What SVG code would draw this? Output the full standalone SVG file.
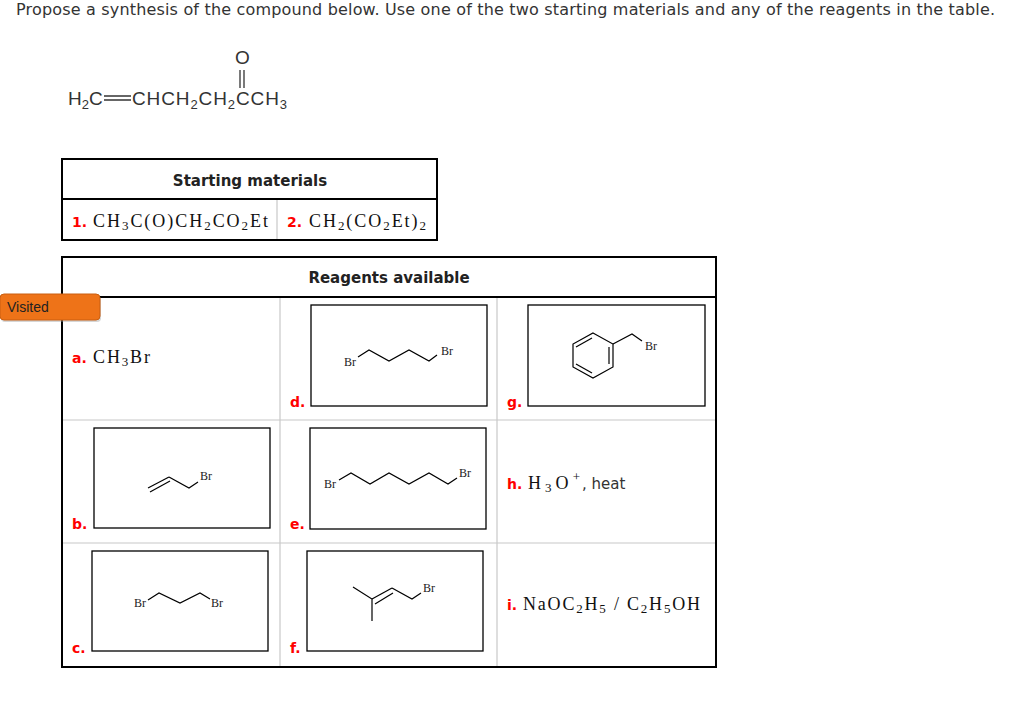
<svg xmlns="http://www.w3.org/2000/svg" width="1024" height="711" viewBox="0 0 1024 711">
<style>
.t{font-family:"DejaVu Sans",Verdana,sans-serif;font-size:16px;fill:#333}
.h{font-family:"DejaVu Sans",Verdana,sans-serif;font-size:15px;font-weight:bold;fill:#222}
.lb{font-family:"DejaVu Sans",Verdana,sans-serif;font-size:14px;font-weight:bold;fill:#f00}
.s{font-family:"Liberation Serif","Times New Roman",serif;font-size:18px;fill:#111}
.br{font-family:"Liberation Serif","Times New Roman",serif;font-size:12px;fill:#222}
.f{font-family:"Liberation Sans",Arial,sans-serif;font-size:19px;fill:#333}
.bx{fill:#fff;stroke:#000;stroke-width:1.3}
.ml{fill:none;stroke:#000;stroke-width:1.2}
.g{stroke:#c8c8c8;stroke-width:1.2}
.o{fill:#fff;stroke:#000;stroke-width:2}
</style>
<rect width="1024" height="711" fill="#fff"/>
<text class="t" x="16" y="15" textLength="979" lengthAdjust="spacing">Propose a synthesis of the compound below. Use one of the two starting materials and any of the reagents in the table.</text>
<g id="target">
<text class="f" x="68" y="105">H<tspan font-size="13" dy="4">2</tspan><tspan dy="-4">C</tspan></text>
<line x1="104" y1="96" x2="131" y2="96" stroke="#333" stroke-width="1.5"/>
<line x1="104" y1="100" x2="131" y2="100" stroke="#333" stroke-width="1.5"/>
<text class="f" x="132" y="105" textLength="155" lengthAdjust="spacing">CHCH<tspan font-size="13" dy="4">2</tspan><tspan dy="-4">CH</tspan><tspan font-size="13" dy="4">2</tspan><tspan dy="-4">CCH</tspan><tspan font-size="13" dy="4">3</tspan></text>
<text class="f" x="235" y="64">O</text>
<line x1="240" y1="70" x2="240" y2="88" stroke="#333" stroke-width="1.3"/>
<line x1="244" y1="70" x2="244" y2="88" stroke="#333" stroke-width="1.3"/>
</g>
<g id="starting">
<rect class="o" x="62" y="159" width="375" height="81"/>
<line x1="62" y1="199" x2="437" y2="199" stroke="#000" stroke-width="2"/>
<line class="g" x1="277" y1="200" x2="277" y2="239"/>
<text class="h" x="250" y="186" text-anchor="middle">Starting materials</text>
<text class="lb" x="72" y="227">1.</text>
<text class="s" x="93" y="227" textLength="175" lengthAdjust="spacing">CH<tspan font-size="13" dy="3">3</tspan><tspan dy="-3">C(O)CH</tspan><tspan font-size="13" dy="3">2</tspan><tspan dy="-3">CO</tspan><tspan font-size="13" dy="3">2</tspan><tspan dy="-3">Et</tspan></text>
<text class="lb" x="287" y="227">2.</text>
<text class="s" x="309" y="227" textLength="117" lengthAdjust="spacing">CH<tspan font-size="13" dy="3">2</tspan><tspan dy="-3">(CO</tspan><tspan font-size="13" dy="3">2</tspan><tspan dy="-3">Et)</tspan><tspan font-size="13" dy="3">2</tspan></text>
</g>
<g id="reagents">
<rect class="o" x="62" y="257" width="654" height="410"/>
<line x1="62" y1="297" x2="716" y2="297" stroke="#000" stroke-width="2"/>
<line class="g" x1="280" y1="298" x2="280" y2="666"/>
<line class="g" x1="497" y1="298" x2="497" y2="666"/>
<line class="g" x1="63" y1="420" x2="715" y2="420"/>
<line class="g" x1="63" y1="543" x2="715" y2="543"/>
<text class="h" x="389" y="283" text-anchor="middle">Reagents available</text>
</g>
<g id="a"><text class="lb" x="72" y="363">a.</text>
<text class="s" x="93" y="363" textLength="57" lengthAdjust="spacing">CH<tspan font-size="13" dy="3">3</tspan><tspan dy="-3">Br</tspan></text></g>
<g id="d">
<text class="lb" x="290" y="407">d.</text>
<rect class="bx" x="311" y="305" width="176" height="101"/>
<polyline class="ml" points="358,357 369,350 389,361 409,350 429,361 437,355"/>
<text class="br" x="344" y="366">Br</text><text class="br" x="441" y="355">Br</text>
</g>
<g id="g">
<text class="lb" x="507" y="407">g.</text>
<rect class="bx" x="528" y="305" width="177" height="101"/>
<polygon class="ml" points="593,333 613,344 613,367 593,378 573,367 573,344"/>
<line class="ml" x1="609" y1="347" x2="609" y2="364"/>
<line class="ml" x1="576" y1="347" x2="592" y2="338"/>
<line class="ml" x1="576" y1="364" x2="592" y2="373"/>
<polyline class="ml" points="613,344 632,334 642,341"/>
<text class="br" x="645" y="350">Br</text>
</g>
<g id="b">
<text class="lb" x="72" y="529">b.</text>
<rect class="bx" x="94" y="428" width="176" height="100"/>
<line class="ml" x1="148" y1="488" x2="169" y2="477"/>
<line class="ml" x1="150" y1="492" x2="170" y2="481"/>
<polyline class="ml" points="169,477 189,488 198,482"/>
<text class="br" x="200" y="480">Br</text>
</g>
<g id="e">
<text class="lb" x="290" y="529">e.</text>
<rect class="bx" x="310" y="428" width="176" height="101"/>
<polyline class="ml" points="339,480 351,473 370,484 389,473 409,484 429,473 448,484 457,478"/>
<text class="br" x="324" y="488">Br</text><text class="br" x="459" y="477">Br</text>
</g>
<g id="h"><text class="lb" x="507" y="489">h.</text>
<text class="s" x="528" y="489" textLength="52" lengthAdjust="spacing">H<tspan font-size="13" dy="3">3</tspan><tspan dy="-3">O</tspan><tspan font-size="13" dy="-8">+</tspan></text>
<text x="582" y="489" font-family="DejaVu Sans,Verdana,sans-serif" font-size="15" fill="#333">, heat</text></g>
<g id="i"><text class="lb" x="507" y="610">i.</text>
<text class="s" x="523" y="610" textLength="177" lengthAdjust="spacing">NaOC<tspan font-size="13" dy="3">2</tspan><tspan dy="-3">H</tspan><tspan font-size="13" dy="3">5</tspan><tspan dy="-3"> / C</tspan><tspan font-size="13" dy="3">2</tspan><tspan dy="-3">H</tspan><tspan font-size="13" dy="3">5</tspan><tspan dy="-3">OH</tspan></text></g>
<g id="c">
<text class="lb" x="72" y="653">c.</text>
<rect class="bx" x="92" y="551" width="176" height="100"/>
<polyline class="ml" points="148,600 159,593 180,603 200,593 210,599"/>
<text class="br" x="134" y="607">Br</text><text class="br" x="211" y="607">Br</text>
</g>
<g id="f">
<text class="lb" x="290" y="653">f.</text>
<rect class="bx" x="307" y="551" width="176" height="100"/>
<polyline class="ml" points="353,587 372,599 372,621"/>
<line class="ml" x1="372" y1="599" x2="392" y2="588"/>
<line class="ml" x1="375" y1="604" x2="393" y2="593"/>
<polyline class="ml" points="392,588 412,599 421,593"/>
<text class="br" x="423" y="592">Br</text>
</g>
<g id="visited">
<rect x="1" y="296" width="100" height="26" rx="4" fill="#999" opacity="0.4"/>
<rect x="0" y="294" width="100" height="26" rx="4" fill="#ee7318" stroke="#c95f10"/>
<text x="7" y="312" font-family="Liberation Sans,Arial,sans-serif" font-size="14" fill="#222">Visited</text>
</g>
</svg>
